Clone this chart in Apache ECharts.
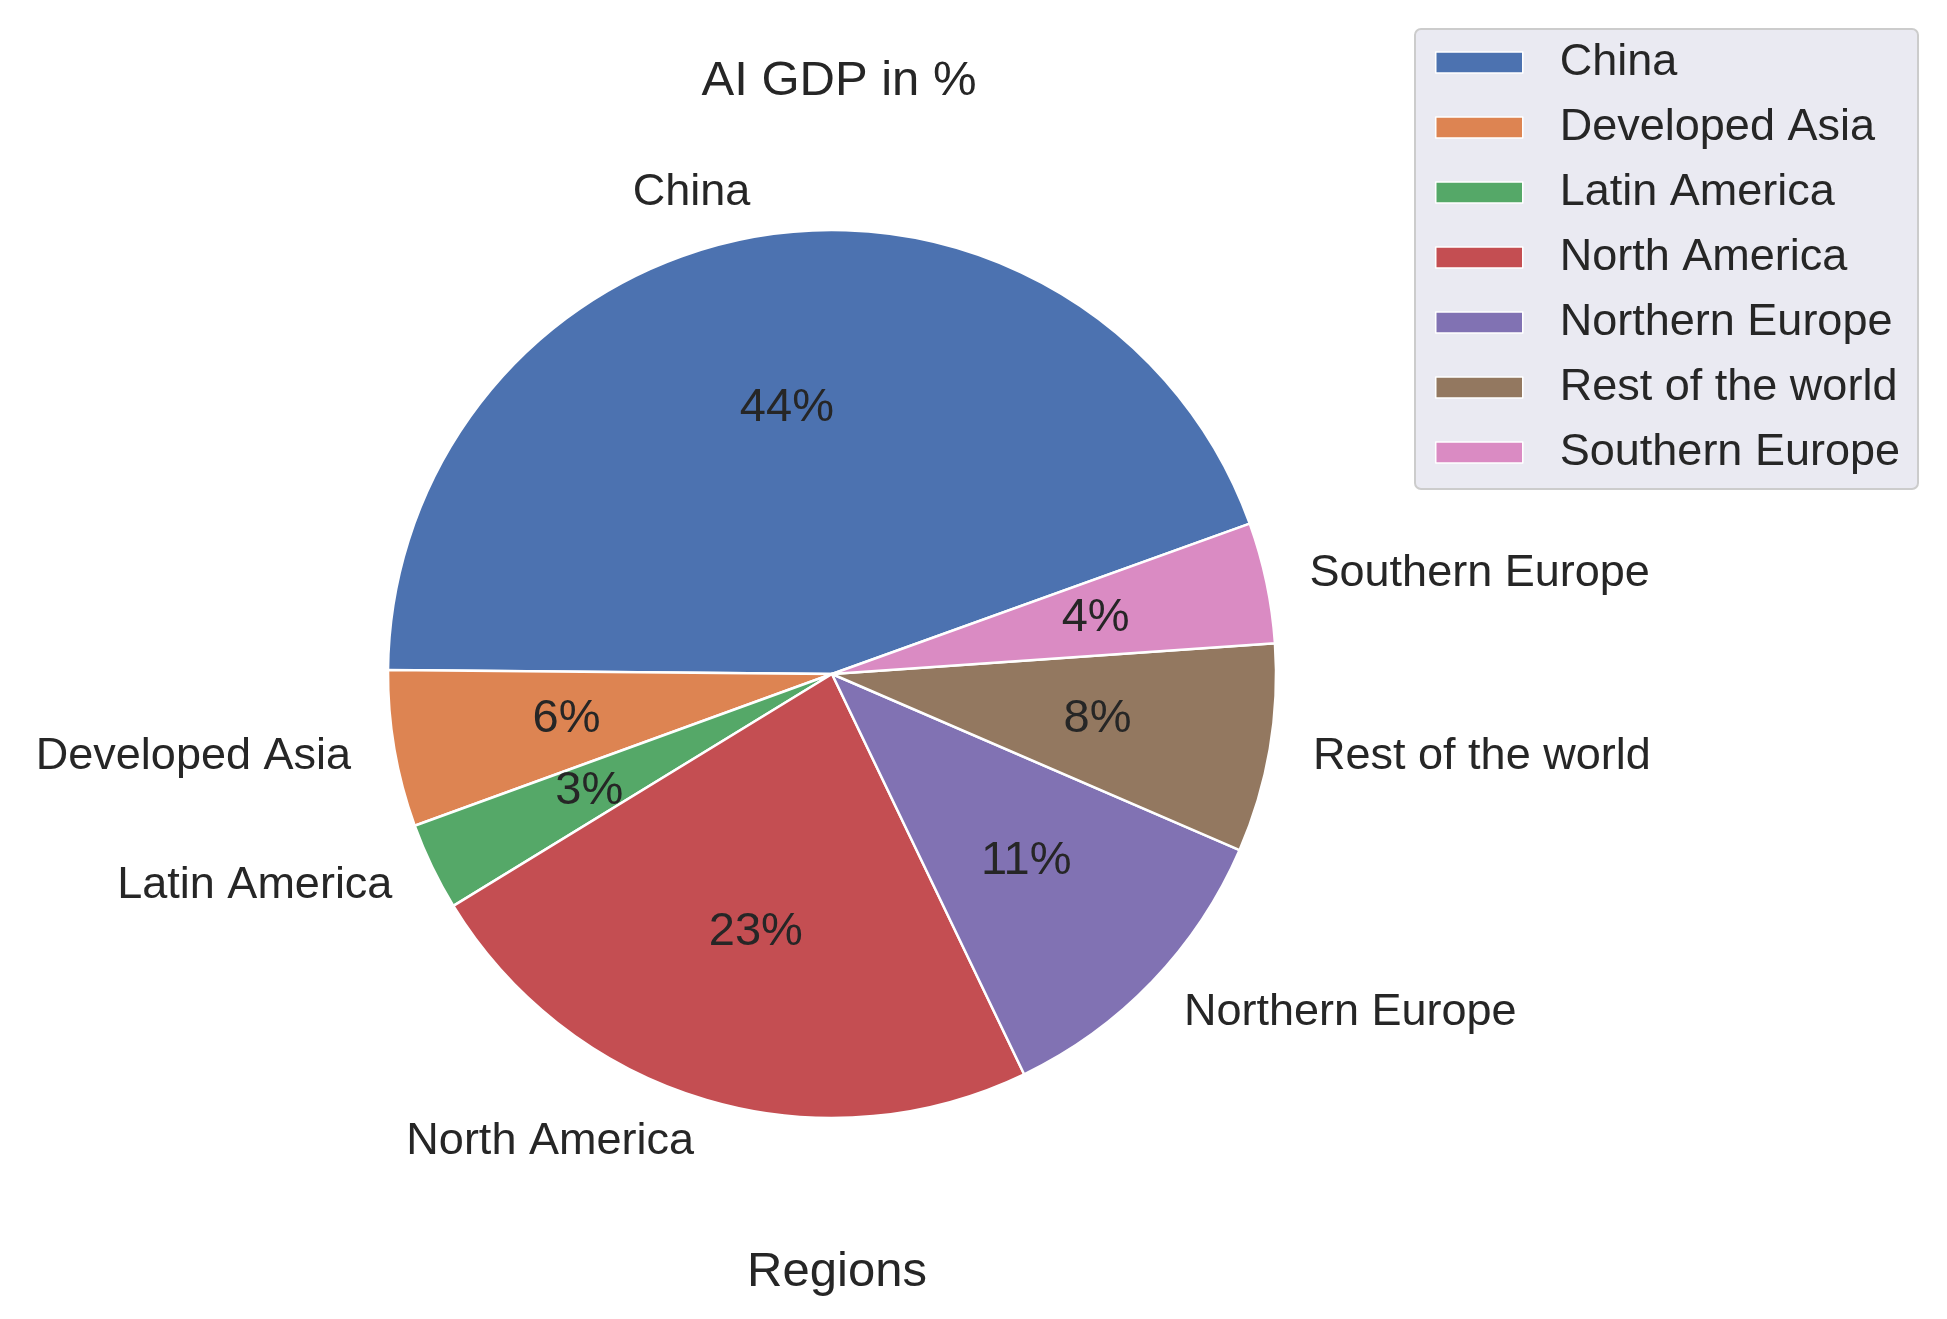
<!DOCTYPE html>
<html><head><meta charset="utf-8">
<script src="https://cdn.jsdelivr.net/npm/echarts@6/dist/echarts.min.js"></script>
<style>html,body{margin:0;padding:0;background:#fff}#c{width:1947px;height:1319px}</style>
</head><body><div id="c"></div>
<script>
const categories = ["China","Developed Asia","Latin America","North America","Northern Europe","Rest of the world","Southern Europe"];
const values = [44.4, 5.7, 3.2, 23.4, 11.4, 7.6, 4.4];
const colors = ["#4C72B0","#DD8452","#55A868","#C44E52","#8172B3","#937860","#DA8BC3"];
const data = categories.map((n,i)=>({name:n,value:values[i]}));
const font = "Liberation Sans, Arial, sans-serif";
const R = 444, C = [832, 674];
const chart = echarts.init(document.getElementById('c'));
chart.setOption({
  backgroundColor:'#fff',
  color: colors,
  title:[{text:'AI GDP in %',left:834,top:52,textAlign:'center',textStyle:{fontFamily:font,fontSize:49,fontWeight:'normal',color:'#262626'}},
         {text:'Regions',left:832,top:1243,textAlign:'center',textStyle:{fontFamily:font,fontSize:49,fontWeight:'normal',color:'#262626'}}],
  legend:{orient:'vertical',right:29,top:29,padding:[11,18,14,20],itemGap:20,itemWidth:87,itemHeight:21,
    backgroundColor:'#eaeaf2',borderColor:'#cccccc',borderWidth:2,borderRadius:6,
    textStyle:{fontFamily:font,fontSize:45,lineHeight:45,color:'#262626',padding:[0,0,0,32]},
    icon:'rect',itemStyle:{borderColor:'#fff',borderWidth:1.5},data:categories},
  series:[
    {type:'pie',center:C,radius:[0,R],startAngle:19.8,clockwise:false,data:data,
     itemStyle:{borderColor:'#fff',borderWidth:2.5},emphasis:{disabled:true},
     label:{show:true,position:'outside',formatter:'{b}',fontFamily:font,fontSize:45,color:'#262626',distanceToLabelLine:0},
     labelLine:{show:false,length:44,length2:0},avoidLabelOverlap:false},
    {type:'pie',center:C,radius:[0.2*R,R],startAngle:19.8,clockwise:false,data:data,silent:true,
     itemStyle:{color:'rgba(0,0,0,0)'},legendHoverLink:false,
     label:{show:true,position:'inside',formatter:p=>Math.round(p.value)+'%',fontFamily:font,fontSize:47,color:'#262626'},
     labelLine:{show:false}}
  ]
});
</script></body></html>
